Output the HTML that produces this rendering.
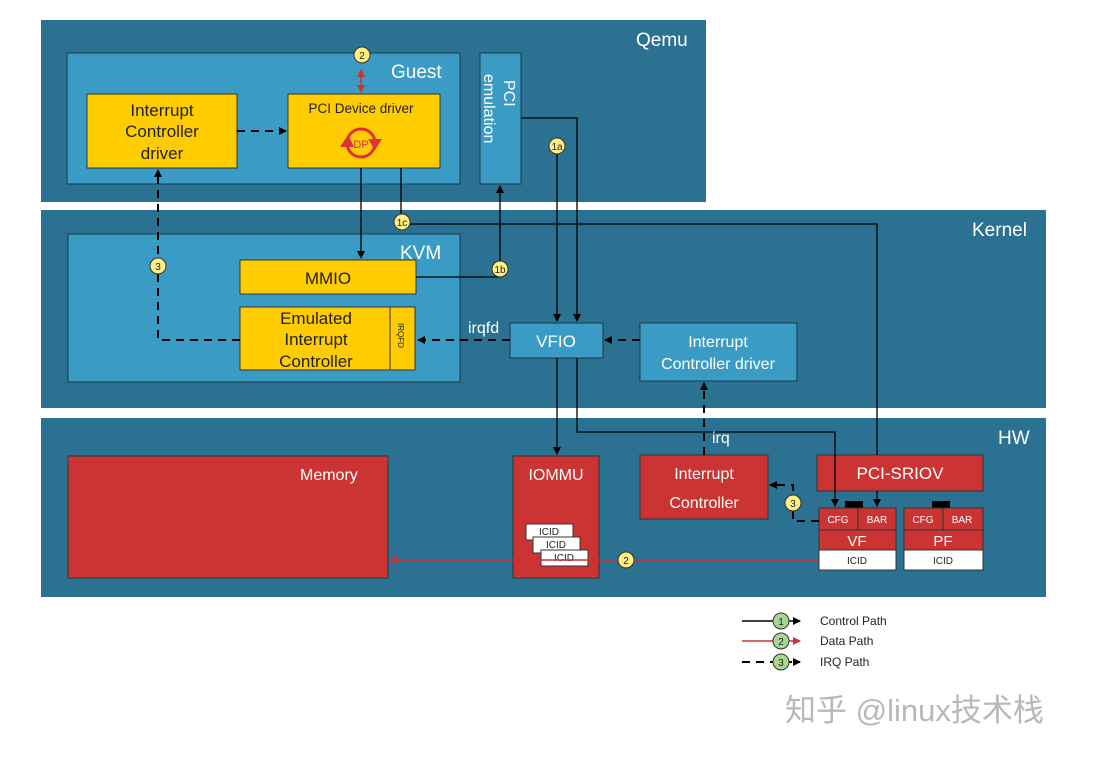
<!DOCTYPE html>
<html><head><meta charset="utf-8"><style>
body{margin:0;background:#fff;width:1093px;height:755px;overflow:hidden}
text{font-family:"Liberation Sans","Noto Sans CJK SC",sans-serif}
</style></head><body>
<svg width="1093" height="755" viewBox="0 0 1093 755" xmlns="http://www.w3.org/2000/svg">
<defs>
<marker id="a" markerWidth="8" markerHeight="8" refX="7" refY="4" orient="auto" markerUnits="userSpaceOnUse"><path d="M0,0 L8,4 L0,8z" fill="#000"/></marker>
<marker id="r" markerWidth="8" markerHeight="8" refX="7" refY="4" orient="auto" markerUnits="userSpaceOnUse"><path d="M0,0 L8,4 L0,8z" fill="#c33"/></marker>
<marker id="rs" markerWidth="8" markerHeight="8" refX="1" refY="4" orient="auto" markerUnits="userSpaceOnUse"><path d="M8,0 L0,4 L8,8z" fill="#c33"/></marker>
</defs>
<rect x="41" y="20" width="665" height="182" fill="#2b7191"/>
<rect x="41" y="210" width="1005" height="198" fill="#2b7191"/>
<rect x="41" y="418" width="1005" height="179" fill="#2b7191"/>
<g fill="#fff" font-size="19">
<text x="636" y="46">Qemu</text>
<text x="972" y="236">Kernel</text>
<text x="998" y="444">HW</text>
</g>
<rect x="67" y="53" width="393" height="131" fill="#3a9bc4" stroke="#1a3a4a"/>
<text x="391" y="78" fill="#fff" font-size="19">Guest</text>
<rect x="480" y="53" width="41" height="131" fill="#3a9bc4" stroke="#1a3a4a"/>
<text transform="translate(504,80) rotate(90)" fill="#fff" font-size="16">PCI</text>
<text transform="translate(484,74) rotate(90)" fill="#fff" font-size="16">emulation</text>
<rect x="87" y="94" width="150" height="74" fill="#fc0" stroke="#333"/>
<g font-size="17" fill="#222" text-anchor="middle">
<text x="162" y="116">Interrupt</text><text x="162" y="137">Controller</text><text x="162" y="159">driver</text>
</g>
<rect x="288" y="94" width="152" height="74" fill="#fc0" stroke="#333"/>
<text x="361" y="113" font-size="13.5" fill="#222" text-anchor="middle">PCI Device  driver</text>
<circle cx="361" cy="143" r="14" fill="none" stroke="#d33" stroke-width="3"/>
<path d="M340,147 L348,135 L354,147z M368,139 L382,139 L375,150z" fill="#d33"/>
<text x="361" y="148" font-size="11" fill="#d33" text-anchor="middle">DP</text>
<rect x="68" y="234" width="392" height="148" fill="#3a9bc4" stroke="#1a3a4a"/>
<text x="400" y="259" fill="#fff" font-size="19">KVM</text>
<rect x="240" y="260" width="176" height="34" fill="#fc0" stroke="#333"/>
<text x="328" y="284" font-size="17" fill="#222" text-anchor="middle">MMIO</text>
<rect x="240" y="307" width="175" height="63" fill="#fc0" stroke="#333"/>
<line x1="390" y1="307" x2="390" y2="370" stroke="#333"/>
<g font-size="17" fill="#222" text-anchor="middle">
<text x="316" y="324">Emulated</text><text x="316" y="345">Interrupt</text><text x="316" y="367">Controller</text>
</g>
<text transform="translate(398,323) rotate(90)" font-size="8" fill="#222">IRQFD</text>
<rect x="510" y="323" width="93" height="35" fill="#3a9bc4" stroke="#1a3a4a"/>
<text x="556" y="347" font-size="17" fill="#fff" text-anchor="middle">VFIO</text>
<text x="468" y="333" font-size="16" fill="#fff">irqfd</text>
<rect x="640" y="323" width="157" height="58" fill="#3a9bc4" stroke="#1a3a4a"/>
<text x="718" y="347" font-size="16" fill="#fff" text-anchor="middle">Interrupt</text>
<text x="718" y="369" font-size="16" fill="#fff" text-anchor="middle">Controller driver</text>
<rect x="68" y="456" width="320" height="122" fill="#c33" stroke="#333"/>
<text x="300" y="480" font-size="16" fill="#fff">Memory</text>
<rect x="513" y="456" width="86" height="122" fill="#c33" stroke="#333"/>
<text x="556" y="480" font-size="16" fill="#fff" text-anchor="middle">IOMMU</text>
<g font-size="10" fill="#222" text-anchor="middle">
<rect x="526" y="524" width="47" height="16" fill="#fff" stroke="#333"/><text x="549" y="535">ICID</text>
<rect x="533" y="537" width="47" height="16" fill="#fff" stroke="#333"/><text x="556" y="548">ICID</text>
<rect x="541" y="550" width="47" height="16" fill="#fff" stroke="#333"/><text x="564" y="561">ICID</text>
</g>
<rect x="640" y="455" width="128" height="64" fill="#c33" stroke="#333"/>
<text x="704" y="479" font-size="16" fill="#fff" text-anchor="middle">Interrupt</text>
<text x="704" y="508" font-size="16" fill="#fff" text-anchor="middle">Controller</text>
<rect x="817" y="455" width="166" height="36" fill="#c33" stroke="#333"/>
<text x="900" y="479" font-size="17" fill="#fff" text-anchor="middle">PCI-SRIOV</text>
<g font-size="10" text-anchor="middle">
<rect x="845" y="501" width="18" height="8" fill="#000"/>
<rect x="819" y="508" width="39" height="22" fill="#c33" stroke="#333"/><text x="838" y="523" fill="#fff">CFG</text>
<rect x="858" y="508" width="38" height="22" fill="#c33" stroke="#333"/><text x="877" y="523" fill="#fff">BAR</text>
<rect x="819" y="530" width="77" height="20" fill="#c33" stroke="#333"/><text x="857" y="546" fill="#fff" font-size="15">VF</text>
<rect x="819" y="550" width="77" height="20" fill="#fff" stroke="#333"/><text x="857" y="564" fill="#222">ICID</text>
<rect x="932" y="501" width="18" height="8" fill="#000"/>
<rect x="904" y="508" width="39" height="22" fill="#c33" stroke="#333"/><text x="923" y="523" fill="#fff">CFG</text>
<rect x="943" y="508" width="40" height="22" fill="#c33" stroke="#333"/><text x="962" y="523" fill="#fff">BAR</text>
<rect x="904" y="530" width="79" height="20" fill="#c33" stroke="#333"/><text x="943" y="546" fill="#fff" font-size="15">PF</text>
<rect x="904" y="550" width="79" height="20" fill="#fff" stroke="#333"/><text x="943" y="564" fill="#222">ICID</text>
</g>
<g fill="none" stroke="#000" stroke-width="1.3">
<path d="M361,168 V258" marker-end="url(#a)"/>
<path d="M401,168 V224 H877 V455"/>
<path d="M416,277 H500 V186" marker-end="url(#a)"/>
<path d="M557,150 V321" marker-end="url(#a)"/>
<path d="M521,118 H577 V321" marker-end="url(#a)"/>
<path d="M557,358 V454" marker-end="url(#a)"/>
<path d="M577,358 V432 H835 V506" marker-end="url(#a)"/>
<path d="M877,491 V506" marker-end="url(#a)"/>
</g>
<g fill="none" stroke="#000" stroke-width="2" stroke-dasharray="8,6">
<path d="M237,131 H286" marker-end="url(#a)"/>
<path d="M240,340 H158 V170" marker-end="url(#a)"/>
<path d="M510,340 H418" marker-end="url(#a)"/>
<path d="M640,340 H605" marker-end="url(#a)"/>
<path d="M704,455 V383" marker-end="url(#a)"/>
<path d="M819,521 H793 V485 H770" marker-end="url(#a)"/>
</g>
<path d="M361,70 V92" stroke="#c33" stroke-width="1.5" marker-end="url(#r)" marker-start="url(#rs)"/>
<path d="M819,560 H390" stroke="#c33" stroke-width="1.5" marker-end="url(#r)"/>
<g font-size="10" text-anchor="middle" fill="#222">
<circle cx="362" cy="55" r="8" fill="#ffef80" stroke="#333"/><text x="362" y="59">2</text>
<circle cx="557" cy="146" r="8" fill="#ffef80" stroke="#333"/><text x="557" y="150">1a</text>
<circle cx="402" cy="222" r="8" fill="#ffef80" stroke="#333"/><text x="402" y="226">1c</text>
<circle cx="500" cy="269" r="8" fill="#ffef80" stroke="#333"/><text x="500" y="273">1b</text>
<circle cx="158" cy="266" r="8" fill="#ffef80" stroke="#333"/><text x="158" y="270">3</text>
<circle cx="626" cy="560" r="8" fill="#ffef80" stroke="#333"/><text x="626" y="564">2</text>
<circle cx="793" cy="503" r="8" fill="#ffef80" stroke="#333"/><text x="793" y="507">3</text>
</g>
<text x="712" y="443" font-size="16" fill="#fff">irq</text>
<g font-size="12" fill="#222">
<line x1="742" y1="621" x2="800" y2="621" stroke="#000" stroke-width="1.5" marker-end="url(#a)"/>
<line x1="742" y1="641" x2="800" y2="641" stroke="#c33" stroke-width="1.5" marker-end="url(#r)"/>
<line x1="742" y1="662" x2="800" y2="662" stroke="#000" stroke-width="2" stroke-dasharray="8,6" marker-end="url(#a)"/>
<circle cx="781" cy="621" r="8" fill="#a8d890" stroke="#333"/><text x="781" y="625" text-anchor="middle" font-size="10">1</text>
<circle cx="781" cy="641" r="8" fill="#a8d890" stroke="#333"/><text x="781" y="645" text-anchor="middle" font-size="10">2</text>
<circle cx="781" cy="662" r="8" fill="#a8d890" stroke="#333"/><text x="781" y="666" text-anchor="middle" font-size="10">3</text>
<text x="820" y="625">Control Path</text>
<text x="820" y="645">Data Path</text>
<text x="820" y="666">IRQ Path</text>
</g>
<text x="785" y="721" font-size="31" fill="#b8b8b8">知乎 @linux技术栈</text>
</svg>
</body></html>
